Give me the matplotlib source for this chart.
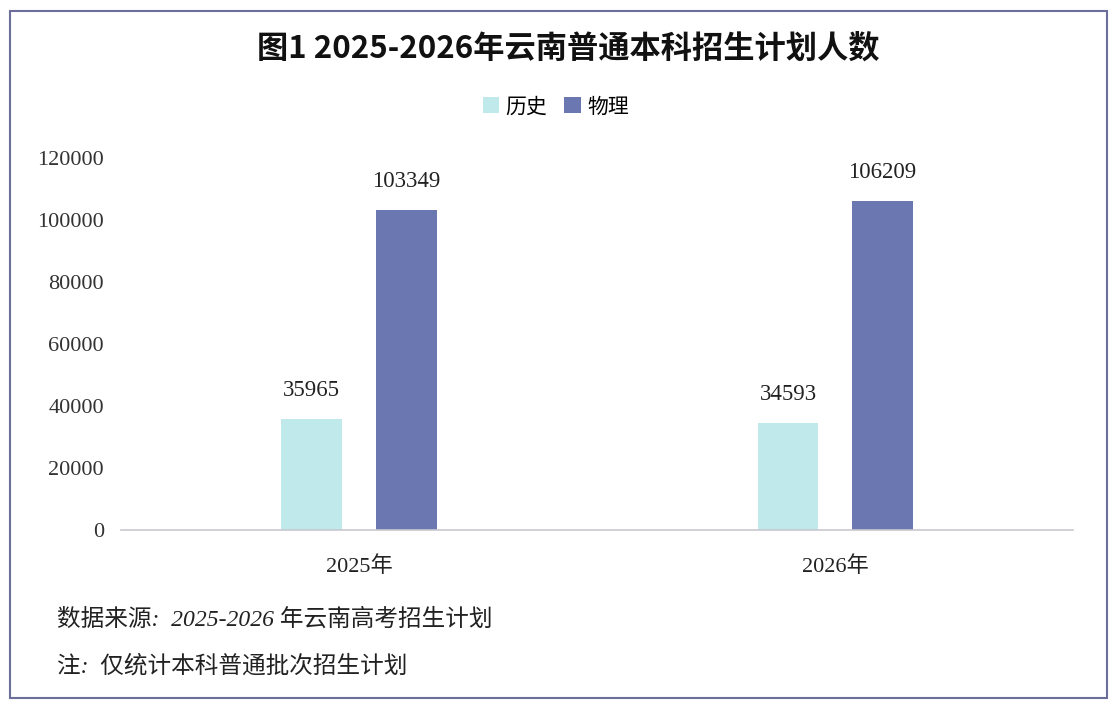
import matplotlib
matplotlib.use('Agg')
import matplotlib.pyplot as plt
from matplotlib.patches import Rectangle
import numpy as np

# data
years = ['2025年', '2026年']
history = [35965, 34593]
physics = [103349, 106209]
series_names = ['历史', '物理']
yticks = [0, 20000, 40000, 60000, 80000, 100000, 120000]

c_hist = '#bfe9eb'
c_phys = '#6b77b0'
serif_cjk = ['Liberation Serif', 'Noto Sans CJK SC']

fig = plt.figure(figsize=(11.18, 7.10), dpi=100)
ax = fig.add_axes([0.108, 0.2535, 0.852, 0.524])

x = np.arange(len(years))
w = 0.128
off = 0.099
b1 = ax.bar(x - off, history, w, color=c_hist, label=series_names[0])
b2 = ax.bar(x + off, physics, w, color=c_phys, label=series_names[1])

for bars, vals in ((b1, history), (b2, physics)):
    for r, v in zip(bars, vals):
        ax.text(r.get_x() + r.get_width() / 2, v + 5800, str(v), ha='center', va='bottom',
                fontsize=16.5, family=serif_cjk, color='#222222')

ax.set_xlim(-0.5, 1.5)
ax.set_ylim(0, 120000)
ax.set_yticks(yticks)
ax.set_yticklabels([str(t) for t in yticks], family=serif_cjk, fontsize=16, color='#333333')
ax.set_xticks(x)
ax.set_xticklabels(years, family=serif_cjk, fontsize=16, color='#222222')
ax.tick_params(axis='both', length=0)
ax.tick_params(axis='y', pad=12)
ax.tick_params(axis='x', pad=19)
for s in ['top', 'right', 'left']:
    ax.spines[s].set_visible(False)
ax.spines['bottom'].set_color('#c8c8d0')
ax.spines['bottom'].set_linewidth(1.2)

fig.text(0.508, 0.932, '图1 2025-2026年云南普通本科招生计划人数', ha='center', va='center',
         fontsize=22.5, fontweight='bold', family=['Noto Sans CJK SC', 'DejaVu Sans'], color='#111111')

leg = fig.legend(handles=[b1, b2], labels=series_names, loc='center', bbox_to_anchor=(0.497, 0.85),
                 ncol=2, frameon=False, handlelength=0.8, handleheight=0.8, handletextpad=0.3,
                 columnspacing=0.8, prop={'family': 'Noto Sans CJK SC', 'size': 15})

fig.text(0.051, 0.128, '数据来源:  2025-2026 年云南高考招生计划', ha='left', va='center',
         fontsize=17, style='italic', family=serif_cjk, color='#222222')
fig.text(0.051, 0.062, '注:  仅统计本科普通批次招生计划', ha='left', va='center',
         fontsize=17, style='italic', family=serif_cjk, color='#222222')

# outer frame
fig.patches.append(Rectangle((10 / 1118, 12 / 710), 1097 / 1118, 687 / 710, transform=fig.transFigure,
                             fill=False, edgecolor='#6b6f9a', linewidth=1.5))

fig.savefig('out.png', dpi=100)
